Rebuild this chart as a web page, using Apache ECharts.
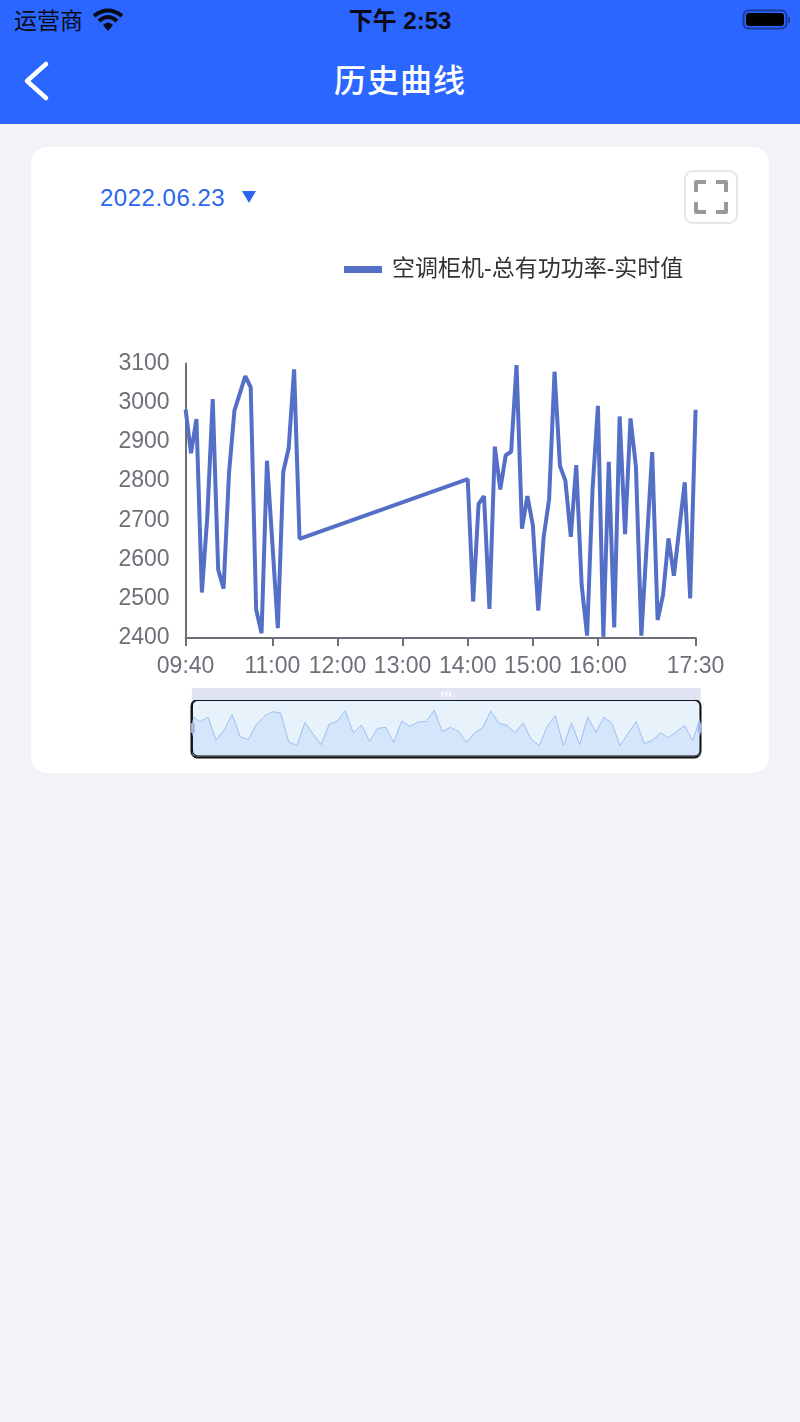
<!DOCTYPE html>
<html>
<head>
<meta charset="utf-8">
<title>历史曲线</title>
<script src="https://cdn.jsdelivr.net/npm/echarts@6/dist/echarts.min.js"></script>
<style>
  html, body { margin: 0; padding: 0; background: #f2f2f7; }
  body { width: 800px; height: 1422px; position: relative; overflow: hidden; font-family: "Liberation Sans", "Noto Sans CJK SC", sans-serif; }
  .abs { position: absolute; white-space: nowrap; }
  #bar { left: 0; top: 0; width: 800px; height: 124px; background: #2a66ff; }
  #card { left: 31px; top: 147px; width: 738px; height: 626px; background: #fff; border-radius: 16px; }
  #skills { left: 31px; top: 147px; width: 738px; height: 626px; }
</style>
</head>
<body>
<div class="abs" id="bar"></div>
<div class="abs" style="left:14px;top:6px;font-size:23px;line-height:30px;color:#0a0a14;">运营商</div>
<svg class="abs" style="left:92px;top:8px;" width="32" height="24" viewBox="0 0 32 24">
  <path d="M2 8 Q16 -3 30 8" fill="none" stroke="#0a0a14" stroke-width="4"/>
  <path d="M7 13 Q16 5 25 13" fill="none" stroke="#0a0a14" stroke-width="4"/>
  <path d="M11 17 Q16 12 21 17 L16 23 Z" fill="#0a0a14"/>
</svg>
<div class="abs" style="left:300px;width:200px;top:6px;text-align:center;font-size:24px;line-height:30px;font-weight:700;color:#0a0a14;">下午 2:53</div>
<svg class="abs" style="left:742px;top:8px;" width="50" height="24" viewBox="0 0 50 24">
  <rect x="1.5" y="2.5" width="43" height="18" rx="5" fill="none" stroke="#1c3a9a" stroke-width="2"/>
  <rect x="4" y="5" width="38" height="13" rx="3" fill="#000"/>
  <rect x="46" y="9" width="2" height="6" rx="1" fill="#1c3a9a"/>
</svg>
<svg class="abs" style="left:20px;top:58px;" width="36" height="46" viewBox="0 0 36 46">
  <polyline points="26,6 7,23 26,40" fill="none" stroke="#fff" stroke-width="4.5" stroke-linecap="round" stroke-linejoin="round"/>
</svg>
<div class="abs" style="left:200px;width:400px;top:58px;text-align:center;font-size:32px;line-height:46px;font-weight:500;letter-spacing:1px;color:#fff;">历史曲线</div>

<div class="abs" id="card"></div>
<div class="abs" style="left:100px;top:183px;font-size:24px;line-height:30px;letter-spacing:0.5px;color:#2a66f0;">2022.06.23</div>
<svg class="abs" style="left:241px;top:190px;" width="16" height="14" viewBox="0 0 16 14"><path d="M1 1 H15 L8 13 Z" fill="#2a66f0"/></svg>
<svg class="abs" style="left:684px;top:170px;" width="54" height="54" viewBox="0 0 54 54">
  <rect x="1" y="1" width="52" height="52" rx="8" fill="#fff" stroke="#e6e6e6" stroke-width="2"/>
  <path d="M12 22 V12 H22 M32 12 H42 V22 M42 32 V42 H32 M22 42 H12 V32" fill="none" stroke="#999" stroke-width="4" stroke-linejoin="round"/>
</svg>
<div class="abs" id="skills"></div>

<script>
var seriesName = '空调柜机-总有功功率-实时值';
var times = [
  '09:40', '09:45', '09:50', '09:55', '10:00', '10:05', '10:10', '10:15', '10:20', '10:25',
  '10:35', '10:40', '10:45', '10:50', '10:55', '11:00', '11:05', '11:10', '11:15', '11:20', '11:25',
  '14:00', '14:05', '14:10', '14:15', '14:20', '14:25', '14:30', '14:35', '14:40', '14:45',
  '14:50', '14:55', '15:00', '15:05', '15:10', '15:15', '15:20', '15:25', '15:30', '15:35',
  '15:40', '15:45', '15:50', '15:55', '16:00', '16:05', '16:10', '16:15', '16:20', '16:25',
  '16:30', '16:35', '16:40', '16:45', '16:50', '16:55', '17:00', '17:05', '17:10', '17:15',
  '17:20', '17:25', '17:30'
];
var values = [
  2983, 2871, 2958, 2516, 2709, 3009, 2575, 2526, 2820, 2980,
  3068, 3039, 2473, 2412, 2852, 2640, 2425, 2824, 2884, 3085, 2653,
  2805, 2493, 2742, 2762, 2474, 2888, 2779, 2866, 2875, 3096,
  2679, 2762, 2688, 2470, 2658, 2754, 3079, 2839, 2801, 2658,
  2841, 2535, 2406, 2778, 2992, 2403, 2849, 2427, 2965, 2665,
  2960, 2837, 2406, 2642, 2874, 2446, 2510, 2654, 2559, 2679,
  2797, 2501, 2982
];
var tickTimes = ['09:40', '11:00', '12:00', '13:00', '14:00', '15:00', '16:00', '17:30'];

// minutes since midnight, the axis is a plain value axis
function toMin(t) {
  var p = t.split(':');
  return parseInt(p[0], 10) * 60 + parseInt(p[1], 10);
}
function fmt(v) {
  return ('0' + Math.floor(v / 60)).slice(-2) + ':' + ('0' + (v % 60)).slice(-2);
}

var myChart = echarts.init(document.getElementById('skills'));
var option = {
  animation: false,
  legend: {
    left: 308,
    top: 106,
    icon: 'rect',
    itemWidth: 38,
    itemHeight: 7,
    itemGap: 10,
    textStyle: { color: '#333', fontSize: 23, padding: [0, 0, 0, 5], fontFamily: '"Liberation Sans", "Noto Sans CJK SC", sans-serif' }
  },
  grid: { left: 154.6, right: 73.4, top: 216.5, height: 274.5 },
  xAxis: {
    type: 'value',
    min: toMin('09:40'),
    max: toMin('17:30'),
    axisLine: { lineStyle: { color: '#6E7079', width: 2 } },
    axisTick: { show: true, length: 8, customValues: tickTimes.map(toMin), lineStyle: { color: '#6E7079', width: 2 } },
    axisLabel: {
      customValues: tickTimes.map(toMin),
      formatter: fmt,
      color: '#6E7079',
      fontSize: 23,
      margin: 17,
      fontFamily: '"Liberation Sans", sans-serif'
    },
    splitLine: { show: false }
  },
  yAxis: {
    type: 'value',
    min: 2400,
    max: 3100,
    interval: 100,
    axisLine: { show: true, lineStyle: { color: '#6E7079', width: 2 } },
    axisTick: { show: false },
    axisLabel: {
      formatter: function (v) { return String(v); },
      color: '#6E7079',
      fontSize: 23,
      margin: 16,
      padding: [2, 0, 0, 0],
      fontFamily: '"Liberation Sans", sans-serif'
    },
    splitLine: { show: false }
  },
  dataZoom: [{
    type: 'slider',
    xAxisIndex: 0,
    start: 0,
    end: 100,
    z: 10,
    left: 156,
    right: 73,
    top: 541,
    height: 57,
    borderColor: '#000',
    borderRadius: 6,
    fillerColor: 'rgba(135,190,235,0.2)',
    moveHandleSize: 12,
    moveHandleStyle: { color: '#e0e4f2', opacity: 1 },
    handleSize: 15,
    handleStyle: { color: '#a3b8dc', borderColor: '#a3b8dc' },
    dataBackground: {
      lineStyle: { color: '#8fb0f7', width: 1, opacity: 0.8 },
      areaStyle: { color: '#8fb0f7', opacity: 0.2 }
    },
    selectedDataBackground: {
      lineStyle: { color: '#8fb0f7', width: 1, opacity: 0.8 },
      areaStyle: { color: '#8fb0f7', opacity: 0.2 }
    },
    showDetail: false
  }],
  // the reference slider frame is heavier than the 1px the component draws
  graphic: [{
    type: 'rect',
    silent: true,
    z: 5,
    shape: { x: 160.5, y: 553, width: 509, height: 57.5, r: 6 },
    style: { fill: 'none', stroke: '#111', lineWidth: 2 }
  }],
  series: [{
    name: seriesName,
    type: 'line',
    showSymbol: false,
    clip: false,
    itemStyle: { color: '#5470C6' },
    lineStyle: { color: '#5470C6', width: 4 },
    data: times.map(function (t, i) { return [toMin(t), values[i]]; })
  }]
};
myChart.setOption(option);
</script>
</body>
</html>
